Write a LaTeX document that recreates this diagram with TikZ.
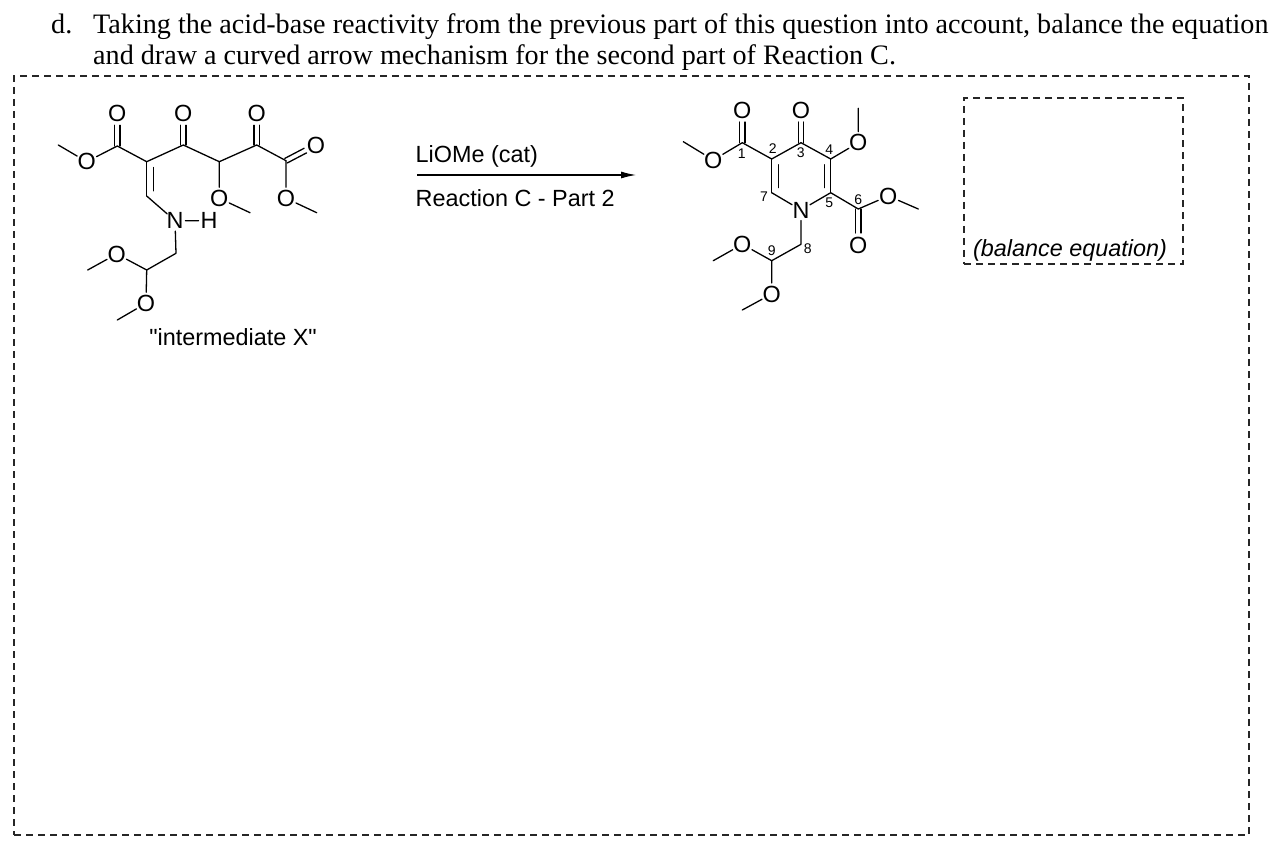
\documentclass[tikz,border=0pt]{standalone}
\usepackage{fontspec}
\setmainfont{Liberation Serif}
\newfontfamily\plainsans{Liberation Sans}
\usetikzlibrary{calc,arrows.meta}
\newcommand\dbo[2]{\draw[bond,shorten >=12pt] ($(#1)!2.6pt!90:(#2)$) -- ($(#2)!2.6pt!-90:(#1)$);\draw[bond,shorten >=12pt] ($(#1)!2.6pt!-90:(#2)$) -- ($(#2)!2.6pt!90:(#1)$);}
\newcommand\dbr[3]{\draw[bond] (#1) -- (#2);\draw[bond] ($(#1)!.17!(#2)!6.5pt!#3:(#2)$) -- ($(#1)!.85!(#2)!6.5pt!#3:(#2)$);}
\tikzset{
 bond/.style={line width=1.3pt,black,line cap=round},
 atom/.style={font=\plainsans\fontsize{23.4}{24}\selectfont,inner sep=0pt,outer sep=-1.2pt,circle,text=black},
 num/.style={font=\plainsans\fontsize{14}{14}\selectfont,inner sep=0pt,text=black},
 label/.style={font=\plainsans\fontsize{23.4}{26}\selectfont,inner sep=0pt,text=black},
 headline/.style={font=\rmfamily\fontsize{28.15}{30}\selectfont,inner sep=0pt,anchor=base west,text=black},
 dashbox/.style={draw=black!85,line width=1.25pt,dash pattern=on 7pt off 5pt},
}
\begin{document}
\begin{tikzpicture}[x=1pt,y=-1pt]
\useasboundingbox (0,0) rectangle (1274,858);
\fill[white] (0,0) rectangle (1274,858);
% heading
\node[headline] (hd) at (51,33.3) {d.};
\node[headline] (l1) at (93,33.3) {Taking the acid-base reactivity from the previous part of this question into account, balance the equation};
\node[headline] (l2) at (93,65) {and draw a curved arrow mechanism for the second part of Reaction C.};
% boxes
\node[dashbox,minimum width=1235pt,minimum height=759pt,inner sep=0pt] (outer) at (631.5,455.5) {};
\node[dashbox,minimum width=219pt,minimum height=166pt,inner sep=0pt] (inner) at (1073.5,181) {};
\node[label,font=\plainsans\itshape\fontsize{23.4}{26}\selectfont] (bal) at (1070,250) {(balance equation)};
% left molecule
\coordinate (lm1) at (58.3,145);
\node[atom] (lo1) at (86.7,161.7) {O};
\coordinate (lc1) at (117.3,146);
\node[atom] (lo2) at (117.3,113.3) {O};
\coordinate (lc2) at (146.7,161.7);
\coordinate (lc3) at (183.3,145);
\node[atom] (lo3) at (183.3,113.3) {O};
\coordinate (lc4) at (219.3,161.7);
\node[atom] (lo4) at (219.3,198.3) {O};
\coordinate (lm4) at (250,212.7);
\coordinate (lc5) at (256.7,145);
\node[atom] (lo5) at (256.7,113.3) {O};
\coordinate (lc6) at (286,160.7);
\node[atom] (lo6) at (316,145) {O};
\node[atom] (lo7) at (286,198.3) {O};
\coordinate (lm7) at (316.7,212.7);
\coordinate (lc7) at (146.7,196);
\node[atom] (ln) at (175,220.7) {N};
\node[atom] (lh) at (209,220.7) {H};
\coordinate (lc8) at (176,253.3);
\coordinate (lc9) at (146.7,270);
\node[atom] (lo8) at (116.7,254) {O};
\coordinate (lm8) at (87.7,270);
\node[atom] (lo9) at (146,303.3) {O};
\coordinate (lm9) at (117.3,320);
\draw[bond] (lm1)--(lo1) (lo1)--(lc1) (lc1)--(lc2) (lc2)--(lc3) (lc3)--(lc4) (lc4)--(lc5) (lc5)--(lc6);
\draw[bond] (lc4)--(lo4) (lo4)--(lm4) (lc6)--(lo7) (lo7)--(lm7);
\draw[bond] (lc7)--(ln) (ln)--(lh) (ln)--(lc8) (lc8)--(lc9) (lc9)--(lo8) (lo8)--(lm8) (lc9)--(lo9) (lo9)--(lm9);
\dbo{lc1}{lo2}\dbo{lc3}{lo3}\dbo{lc5}{lo5}\dbo{lc6}{lo6}
\dbr{lc2}{lc7}{90}
\node[label] (ix) at (233,337) {"intermediate X"};
% arrow
\coordinate (as) at (417,175);
\coordinate (ae) at (636,175);
\draw[line width=1.1pt,-{Latex[length=15pt,width=7pt]}] (as)--(ae);
\node[label,anchor=west] (r1) at (415.5,156) {LiOMe (cat)};
\node[label,anchor=west] (r2) at (415.5,198) {Reaction C - Part 2};
% right molecule
\coordinate (rm1) at (683.3,141.7);
\node[atom] (ro1) at (713.3,160) {O};
\coordinate (rc1) at (742.3,142.7);
\node[atom] (ro2) at (742.3,110) {O};
\coordinate (rc2) at (771.7,159);
\coordinate (rc3) at (801,142.7);
\node[atom] (ro3) at (801,110) {O};
\coordinate (rc4) at (830.7,159);
\node[atom] (ro4) at (858.3,142.7) {O};
\coordinate (rm4) at (858.3,108.3);
\coordinate (rc5) at (830.7,192.7);
\coordinate (rc6) at (858.3,209);
\node[atom] (ro5) at (888.3,196) {O};
\coordinate (rm5) at (918.3,209);
\node[atom] (ro6) at (858.3,245) {O};
\coordinate (rc7) at (771.7,192.7);
\node[atom] (rn) at (801,210) {N};
\coordinate (rc8) at (801,244.3);
\coordinate (rc9) at (771.7,260.7);
\node[atom] (ro8) at (742.3,244.3) {O};
\coordinate (rm8) at (713.3,260.7);
\node[atom] (ro9) at (771.7,294) {O};
\coordinate (rm9) at (742.3,310);
\draw[bond] (rm1)--(ro1) (ro1)--(rc1) (rc1)--(rc2) (rc2)--(rc3) (rc3)--(rc4) (rc4)--(ro4) (ro4)--(rm4);
\draw[bond] (rc5)--(rc6) (rc6)--(ro5) (ro5)--(rm5) (rc5)--(rn) (rc7)--(rn) (rn)--(rc8) (rc8)--(rc9) (rc9)--(ro8) (ro8)--(rm8) (rc9)--(ro9) (ro9)--(rm9);
\dbo{rc1}{ro2}\dbo{rc3}{ro3}\dbo{rc6}{ro6}
\dbr{rc2}{rc7}{90}
\dbr{rc4}{rc5}{-90}
\node[num] (n1) at (741.7,154) {1};
\node[num] (n2) at (772.7,148.3) {2};
\node[num] (n3) at (800.7,152.7) {3};
\node[num] (n4) at (829.3,149.3) {4};
\node[num] (n5) at (829.3,202.7) {5};
\node[num] (n6) at (858.3,199.3) {6};
\node[num] (n7) at (764,196.7) {7};
\node[num] (n8) at (807.7,248.3) {8};
\node[num] (n9) at (771.7,251) {9};
\end{tikzpicture}
\end{document}
